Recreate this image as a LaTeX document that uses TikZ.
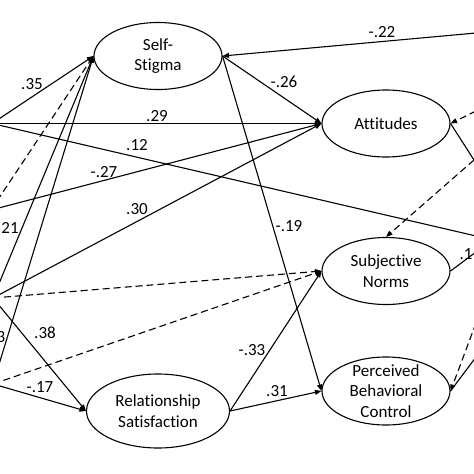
\documentclass[tikz,border=0pt]{standalone}
\usepackage{fontspec}
\setmainfont{Carlito}[Ligatures=NoCommon]
\usetikzlibrary{shapes,arrows,arrows.meta}

\begin{document}
\begin{tikzpicture}[x=1pt,y=-1pt]

\tikzstyle{latent} = [draw, ellipse, line width=1.1, inner sep=0, minimum width=128, minimum height=67]
\tikzstyle{lbl} = [align=center, inner sep=0, font=\fontsize{17}{20.5}\selectfont]
\tikzstyle{coef} = [inner sep=0, font=\fontsize{17}{20}\selectfont]
\tikzstyle{link} = [line width=1.1]
\tikzstyle{effect} = [link, -{Triangle[length=6.5pt,width=5pt]}]
\tikzstyle{nonsig} = [effect, dash pattern=on 7pt off 4pt]

\fill[white] (0,0) rectangle (474,474);
\useasboundingbox (0,0) rectangle (474,474);
\clip (0,0) rectangle (474,474);

% latent variables
\node [latent] (ss) at (158,56) {};
\node [lbl] (ssT) at (ss) {Self-\\Stigma};
\node [latent] (att) at (386,123.5) {};
\node [lbl] (attT) at (att) {Attitudes};
\node [latent] (sn) at (386,271) {};
\node [lbl] (snT) at (sn) {Subjective\\Norms};
\node [latent, minimum height=68] (pbc) at (386,391) {};
\node [lbl] (pbcT) at (pbc) {Perceived\\Behavioral\\Control};
\node [latent, minimum width=143, minimum height=74] (rs) at (158,411) {};
\node [lbl] (rsT) at (rs) {Relationship\\Satisfaction};

% ends outside the frame
\coordinate (lA) at (-8,123.5);
\coordinate (lB) at (-9,210);
\coordinate (lC) at (-7,298);
\coordinate (lD) at (-7,384);
\coordinate (rA) at (476,33);
\coordinate (rB) at (476,111);
\coordinate (rC) at (474,160);
\coordinate (rD) at (476,236);
\coordinate (rE) at (476,252);
\coordinate (rF) at (476,323);
\coordinate (rG) at (476,357);

\draw[effect] (lA) -- (ss.west);
\draw[effect] (lA) -- (att.west);
\draw[link] (lA) -- (rD);
\draw[nonsig] (lB) -- (ss.west);
\draw[effect] (lB) -- (att.west);
\draw[effect] (lC) -- (ss.west);
\draw[effect] (lC) -- (att.west);
\draw[nonsig] (lC) -- (sn.west);
\draw[effect] (lC) -- (rs.west);
\draw[effect] (lD) -- (ss.west);
\draw[nonsig] (lD) -- (sn.west);
\draw[effect] (lD) -- (rs.west);

\draw[effect] (rA) -- (ss.east);
\draw[effect] (ss.east) -- (att.west);
\draw[effect] (ss.east) -- (pbc.west);
\draw[effect] (rs.east) -- (sn.west);
\draw[effect] (rs.east) -- (pbc.west);

\draw[nonsig] (rB) -- (att.east);
\draw[link] (att.east) -- (rC);
\draw[nonsig] (rC) -- (sn.north);
\draw[link] (sn.east) -- (rE);
\draw[nonsig] (rF) -- (pbc.east);
\draw[link] (pbc.east) -- (rG);

% coefficients
\node [coef] (c35) at (32,84) {.35};
\node [coef] (c29) at (157,116) {.29};
\node [coef] (c12) at (137,145) {.12};
\node [coef] (c27) at (104,172) {-.27};
\node [coef] (c30) at (137,209) {.30};
\node [coef] (c21) at (10,228) {21};
\node [coef] (c22) at (382,32) {-.22};
\node [coef] (c26) at (284,82) {-.26};
\node [coef] (c19) at (289,226) {-.19};
\node [coef] (c38) at (45,333) {.38};
\node [coef] (c17) at (40,387) {-.17};
\node [coef] (c3) at (1,337) {3};
\node [coef] (c33) at (252,350) {-.33};
\node [coef] (c31) at (277,391) {.31};
\node [coef] (c1) at (466,254) {.1};

\end{tikzpicture}
\end{document}
